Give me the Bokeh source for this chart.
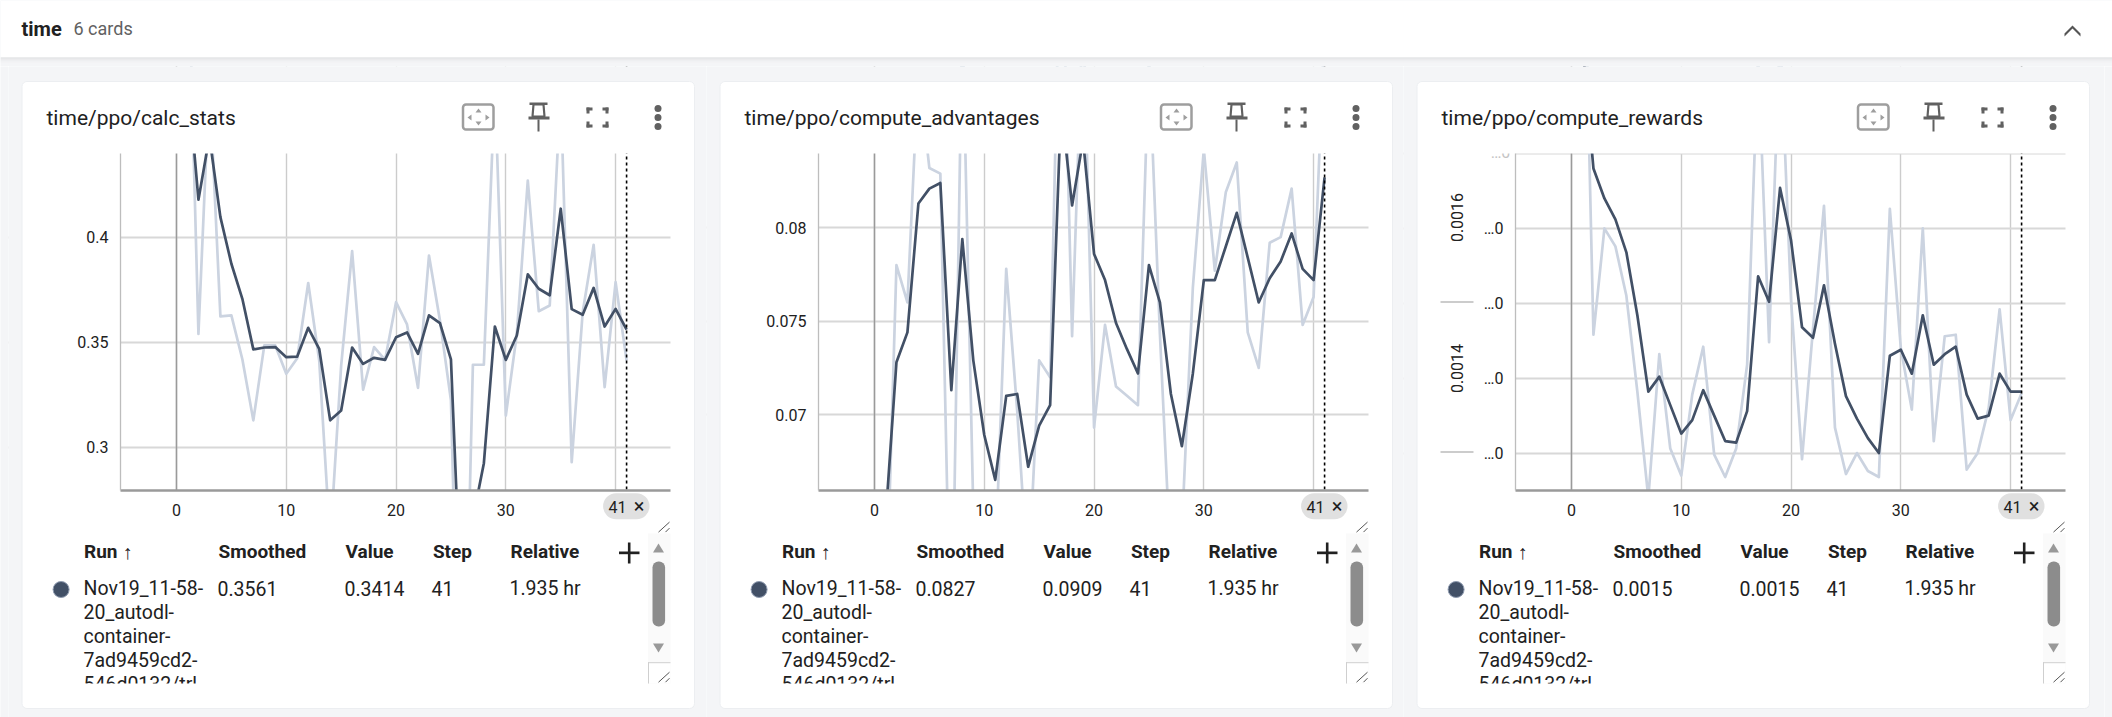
from bokeh.embed import file_html
from bokeh.layouts import column, row
from bokeh.models import BoxAnnotation, FixedTicker, Label, PolyAnnotation, Range1d, Span
from bokeh.plotting import figure
from bokeh.resources import INLINE

# steps are the same for all three runs
steps = list(range(1, 42))

calc_smoothed = [.478, .418, .448, .4097, .3875, .3708, .3467, .3476, .3478, .343, .3433, .357, .347, .3129, .3176,
                 .3476, .3398, .3427, .3417, .3525, .3548, .3446, .3629, .3592, .342, .215, .266, .2925, .3576, .3417,
                 .3533, .3824, .3756, .3725, .4137, .3659, .3632, .376, .3576, .366, .3561]
calc_raw = [.55, .3541, .475, .3624, .3629, .342, .3129, .3486, .3486, .3351, .3425, .3783, .3414, .255, .339,
            .3935, .3275, .3478, .3417, .3692, .3586, .3284, .3914, .3605, .3224, .12, .3394, .3394, .473, .3152,
            .354, .4271, .3649, .3676, .47, .293, .3644, .3965, .3287, .3787, .3414]

adv_smoothed = [.0643, .0728, .0744, .0813, .0821, .0824, .0713, .0794, .0729, .0689, .0665, .071, .0711, .0672, .0694,
                .0705, .0866, .0812, .0847, .0786, .0772, .0749, .0735, .0722, .078, .076, .0711, .0683, .0722, .0772,
                .0772, .079, .0808, .0784, .076, .0773, .0782, .0797, .0778, .0772, .0827]
adv_raw = [.058, .078, .076, .0885, .0832, .0829, .0554, .0915, .0649, .062, .062, .0778, .0702, .061, .0729,
           .072, .098, .0742, .092, .0693, .0748, .0715, .071, .0705, .0892, .0743, .0618, .0638, .0768, .0842,
           .0777, .0819, .0835, .0744, .0725, .0792, .0795, .0821, .0748, .0763, .0909]

rew_smoothed = [.001723, .00164, .00162, .001606, .001584, .001542, .001491, .001501, .001482, .001463, .001472,
                .001492, .001475, .001458, .001457, .001478, .001568, .001551, .001627, .001592, .001534, .001527,
                .001562, .001523, .001488, .001473, .00146, .00145, .001515, .001519, .001503, .001542, .001509,
                .001516, .001521, .001489, .001473, .001475, .001503, .001491, .001491]
rew_raw = [.00185, .001529, .0016, .001588, .001555, .001491, .00142, .001516, .001453, .001435, .001489, .001521,
           .001449, .001434, .001453, .001509, .001716, .001524, .001733, .001552, .001446, .001533, .001615, .001467,
           .001436, .00145, .001438, .001434, .001613, .00152, .001479, .0016, .001458, .001528, .001529, .001439,
           .00145, .00148, .001546, .001472, .00149]

titles = ["time/ppo/calc_stats", "time/ppo/compute_advantages", "time/ppo/compute_rewards"]
smoothed_cells = ["0.3561", "0.0827", "0.0015"]
value_cells = ["0.3414", "0.0909", "0.0015"]
step_cell = "41"
relative_cell = "1.935 hr"
run_lines = ["Nov19_11-58-", "20_autodl-", "container-", "7ad9459cd2-", "546d0132/trl"]
table_heads = ["Smoothed", "Value", "Step", "Relative"]

calc_ticks = [.3, .35, .4]
adv_ticks = [.07, .075, .08]
rew_ticks = [.00145, .0015, .00155, .0016, .00165]
x_ticks = [0, 10, 20, 30, 40]

DARK = "#425066"
LIGHT = "#cbd3e0"
PAGE_BG = "#f4f5f7"
FONT = "Roboto"
ICON = "#616161"

# plot area inside each card figure, in canvas pixels
PLOT_L, PLOT_R, PLOT_T, PLOT_B = 112, 662, 87, 424
FIG_H = 651
X_MIN, X_MAX = -5.1, 45


def box(p, l, t, r, b, color, radius=0, line=None, width=1, under=False):
    a = BoxAnnotation(left=l, right=r, top=t, bottom=b, left_units="canvas", right_units="canvas",
                      top_units="canvas", bottom_units="canvas", fill_color=color, fill_alpha=1 if color else 0,
                      line_color=line, line_alpha=1 if line else 0, line_width=width, border_radius=radius,
                      editable=False)
    if under:
        a.level = "underlay"
        p.center.insert(0, a)
    else:
        p.add_layout(a)


def poly(p, xs, ys, fill=None, line=None, width=1):
    p.add_layout(PolyAnnotation(xs=xs, ys=ys, xs_units="canvas", ys_units="canvas",
                                fill_color=fill, fill_alpha=1 if fill else 0,
                                line_color=line, line_alpha=1 if line else 0, line_width=width, editable=False))


def text(p, x, y, s, size=19.5, color="#212121", style="normal", align="left", angle=0):
    p.add_layout(Label(x=x, y=y, x_units="canvas", y_units="canvas", text=s, text_font=FONT,
                       text_font_size=f"{size}px", text_color=color, text_font_style=style,
                       text_align=align, text_baseline="middle", angle=angle, angle_units="deg"))


def icons(p):
    # fit to data
    box(p, 454.5, 38, 485, 63, "#ffffff", radius=3, line="#9e9e9e", width=2.5)
    poly(p, [470, 467, 473], [42, 46, 46], fill="#9e9e9e")
    poly(p, [470, 467, 473], [59, 55, 55], fill="#9e9e9e")
    poly(p, [459, 463, 463], [51, 48, 54], fill="#9e9e9e")
    poly(p, [481, 477, 477], [51, 48, 54], fill="#9e9e9e")
    # pin
    box(p, 521, 36, 539, 38.5, ICON)
    poly(p, [525, 535, 536, 524], [38, 38, 50, 50], line=ICON, width=2.2)
    box(p, 520, 50, 541, 53, ICON)
    box(p, 529, 53, 531, 65, ICON)
    # fullscreen
    for vx, hx in [(578, 578), (597, 594)]:
        box(p, vx, 41, vx + 3, 47, ICON)
        box(p, vx, 55, vx + 3, 61, ICON)
        box(p, hx, 41, hx + 6, 44, ICON)
        box(p, hx, 58, hx + 6, 61, ICON)
    # more
    for y in [42, 51, 60]:
        box(p, 646, y - 3.5, 653, y + 3.5, ICON, radius=4)


def table(p, smoothed, value):
    for x, s in zip([210, 337, 424.4, 502], table_heads):
        text(p, x, 485, s, size=19, style="bold")
    text(p, 75.5, 485, "Run", size=19, style="bold")
    text(p, 114, 485, "↑", size=20)
    box(p, 610.5, 485, 631, 487.7, "#212121")
    box(p, 619.4, 476, 622, 497, "#212121")
    box(p, 44.6, 515, 60.6, 531, DARK, radius=8, line="#8f9bb0")
    for i, s in enumerate(run_lines):
        text(p, 75, 522 + 24 * i, s)
    text(p, 209, 522, smoothed)
    text(p, 336, 522, value)
    text(p, 423, 522, step_cell)
    text(p, 501, 522, relative_cell)
    # text below this is cut by the scroll box
    box(p, 60, 617, 640, 640, "#ffffff")
    box(p, 639.5, 467, 662, 617, "#fafafa")
    box(p, 644, 495, 656.6, 560, "#8c8c8c", radius=6)
    poly(p, [650, 644.5, 655.5], [477, 486, 486], fill="#999999")
    poly(p, [650, 644.5, 655.5], [586, 577, 577], fill="#999999")
    box(p, 639.5, 595.7, 662, 617, "#ffffff")
    box(p, 639.5, 595.7, 662, 596.7, "#cfcfcf")
    box(p, 639.5, 595.7, 640.5, 617, "#cfcfcf")
    for y in [465.6, 615.7]:
        poly(p, [650, 661], [y, y - 10], line="#555555")
        poly(p, [657, 661], [y, y - 4], line="#555555")


def card(title, smoothed, raw, y_view, ticks, tick_labels, cell_s, cell_v, w=698):
    # the frame fills the whole figure so the card furniture can be drawn around the plot;
    # ranges are widened so the plot area lands at PLOT_* and the bands outside it get masked
    x_per_px = (X_MAX - X_MIN) / (PLOT_R - PLOT_L)
    y_per_px = (y_view[1] - y_view[0]) / (PLOT_B - PLOT_T)
    x_range = Range1d(X_MIN - PLOT_L * x_per_px, X_MAX + (w - PLOT_R) * x_per_px)
    y_range = Range1d(y_view[0] - (FIG_H - PLOT_B) * y_per_px, y_view[1] + PLOT_T * y_per_px)
    p = figure(width=w, height=FIG_H, x_range=x_range, y_range=y_range, output_backend="svg",
               toolbar_location=None, min_border=0, background_fill_color=PAGE_BG,
               border_fill_color=PAGE_BG, outline_line_color=None, styles={"overflow": "hidden"})
    box(p, 13.5, 15, 686, 642, "#ffffff", radius=5, under=True)

    p.xaxis.fixed_location = y_view[0]
    p.yaxis.fixed_location = X_MIN
    p.xaxis.bounds = (X_MIN, X_MAX)
    p.yaxis.bounds = y_view
    p.xaxis.level = "overlay"
    p.yaxis.level = "overlay"
    p.xaxis.ticker = FixedTicker(ticks=x_ticks)
    p.xaxis.major_label_overrides = {40: ""}
    p.yaxis.ticker = FixedTicker(ticks=ticks)
    p.yaxis.major_label_overrides = tick_labels
    p.axis.major_tick_line_color = None
    p.axis.minor_tick_line_color = None
    p.axis.major_label_text_font = FONT
    p.axis.major_label_text_font_size = "16px"
    p.axis.major_label_text_color = "#212121"
    p.xaxis.major_label_standoff = 7
    p.yaxis.major_label_standoff = 6
    p.xaxis.axis_line_color = "#9a9a9a"
    p.xaxis.axis_line_width = 2.5
    p.yaxis.axis_line_color = "#bdbdbd"
    p.yaxis.axis_line_width = 1.3
    p.xgrid.grid_line_color = "#cccccc"
    p.xgrid.grid_line_width = 1.4
    p.ygrid.grid_line_color = "#d8d8d8"
    p.ygrid.grid_line_width = 2

    p.add_layout(Span(location=0, dimension="height", line_color="#9a9a9a", line_width=1.5, level="underlay"))
    p.line(steps, raw, line_color=LIGHT, line_width=2.7, line_join="round")
    p.line(steps, smoothed, line_color=DARK, line_width=2.7, line_join="round")
    p.add_layout(Span(location=steps[-1], dimension="height", line_color="#000000", line_width=1.6,
                      line_dash=[3, 3]))

    # masks: lines and grid run past the plot area, nothing clips them here
    box(p, 0, 0, w, 15, PAGE_BG)
    box(p, 0, 642, w, FIG_H, PAGE_BG)
    box(p, 0, 15, 13.5, 642, PAGE_BG)
    box(p, 686, 15, w, 642, PAGE_BG)
    box(p, 13.5, 15, 686, PLOT_T, "#ffffff", radius=5)
    box(p, 13.5, PLOT_B, 686, 642, "#ffffff", radius=5)
    box(p, 13.5, 60, PLOT_L, 450, "#ffffff")
    box(p, PLOT_R, 60, 686, 450, "#ffffff")
    box(p, 13.5, 15, 686, 642, None, radius=5, line="#eceef1")

    text(p, 38, 51, title, size=21)
    icons(p)
    box(p, 594.6, 426.7, 641, 452.7, "#e0e0e0", radius=13)
    text(p, 609, 440, str(steps[-1]), size=16, align="center")
    text(p, 630.5, 439, "×", size=20, align="center")
    table(p, cell_s, cell_v)
    return p


header = figure(width=2112, height=66, x_range=Range1d(0, 2112), y_range=Range1d(0, 66), output_backend="svg",
                toolbar_location=None, min_border=0, outline_line_color=None, x_axis_type=None, y_axis_type=None,
                background_fill_color=PAGE_BG, border_fill_color=PAGE_BG, styles={"z-index": "10"})
header.grid.visible = False
box(header, 0, 0, 2112, 57, "#ffffff")
for i, c in enumerate(["#dcdddf", "#e4e5e7", "#e9eaec", "#eef0f1", "#f1f2f4"]):
    box(header, 0, 57 + i, 2112, 58 + i, c)
text(header, 21, 28, "time", size=20, style="bold")
text(header, 73, 28, "6 cards", size=18, color="#616161")
poly(header, [2064, 2072, 2080, 2080, 2072, 2064], [33, 25, 33, 36, 28, 36], fill="#555555")

p1 = card(titles[0], calc_smoothed, calc_raw, (.2795, .44), calc_ticks, {}, smoothed_cells[0], value_cells[0])
p2 = card(titles[1], adv_smoothed, adv_raw, (.06593, .08398), adv_ticks, {}, smoothed_cells[1], value_cells[1], w=697)
rew_labels = {t: "…0" for t in rew_ticks}
rew_labels[rew_ticks[-1]] = ""
p3 = card(titles[2], rew_smoothed, rew_raw, (.001425, .00165), rew_ticks, rew_labels, smoothed_cells[2],
          value_cells[2], w=701)
# run-together prefix labels of the squeezed axis
text(p3, 53, 151, "0.0016", size=16, align="center", angle=90)
text(p3, 53, 302, "0.0014", size=16, align="center", angle=90)
box(p3, 37, 235, 70, 236, "#9a9a9a")
box(p3, 37, 385, 70, 386, "#9a9a9a")
text(p3, 97, 86, "…0", size=16, color="#c4c4c4", align="center")
box(p3, 80, 70, 110, 87, "#ffffff")


def strip(w, h):
    # page gutter either side of the cards
    s = figure(width=w, height=h, output_backend="svg", toolbar_location=None, min_border=0, x_axis_type=None,
               y_axis_type=None, outline_line_color=None, background_fill_color=PAGE_BG,
               border_fill_color=PAGE_BG, x_range=Range1d(0, 1), y_range=Range1d(0, 1))
    s.grid.visible = False
    return s


p = column(header, row(strip(8, FIG_H), p1, p2, p3, strip(8, FIG_H), spacing=0), spacing=0)
open("out.html", "w").write(file_html(p, INLINE))
